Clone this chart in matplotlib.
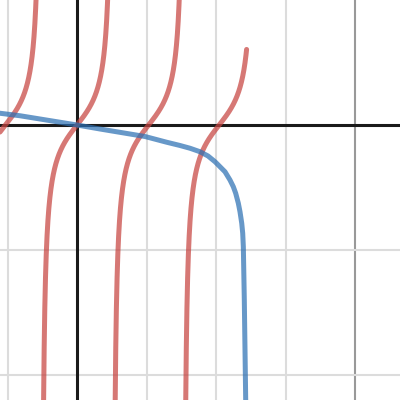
import numpy as np
import matplotlib
matplotlib.use("Agg")
import matplotlib.pyplot as plt

# view window (x in grid units, y in grid units)
x_min, x_max = -1.108, 4.647
y_min, y_max = -2.2, 1.0

# grid lines
light_x = [-1, 1, 2, 3]
dark_x = [4]
light_y = [-1, -2]

# red tan branches: zero crossings, period, amplitude, where the last one stops
red_zeros = [-1.03, 0.0, 1.03, 2.045]
red_period = 1.03
red_amp = 0.232
red_end = 2.44

# blue curve, points
blue_x = [-1.15, -1.108, -0.820, 0.0, 0.331, 0.978, 1.291, 1.482, 1.626, 1.770,
          1.885, 1.986, 2.129, 2.201, 2.249, 2.283, 2.321, 2.345, 2.370, 2.384,
          2.393, 2.407, 2.427, 2.432]
blue_y = [0.098, 0.094, 0.074, 0.0, -0.032, -0.092, -0.138, -0.164, -0.186, -0.214,
          -0.248, -0.294, -0.374, -0.44, -0.494, -0.546, -0.626, -0.694, -0.786, -0.866,
          -0.974, -1.4, -2.2, -2.36]

fig = plt.figure(figsize=(4, 4), dpi=100)
ax = fig.add_axes([0, 0, 1, 1])
ax.set_xlim(x_min, x_max)
ax.set_ylim(y_min, y_max)
ax.axis("off")

for gx in light_x:
    ax.axvline(gx, color="#dcdcdc", lw=1.5, zorder=1)
for gx in dark_x:
    ax.axvline(gx, color="#999999", lw=1.5, zorder=1)
for gy in light_y:
    ax.axhline(gy, color="#dcdcdc", lw=1.5, zorder=1)

ax.axvline(0, color="#1a1a1a", lw=2.2, zorder=2)
ax.axhline(0, color="#1a1a1a", lw=2.2, zorder=2)

for z in red_zeros:
    t = np.linspace(-0.4995, 0.4995, 4000)
    xs = z + t * red_period
    ys = red_amp * np.tan(np.pi * t)
    keep = (np.abs(ys) < 3) & (xs <= red_end)
    ax.plot(xs[keep], ys[keep], color="#c74440", alpha=0.72, lw=3.6,
            solid_capstyle="round", zorder=3)

ax.plot(blue_x, blue_y, color="#2d70b3", alpha=0.72, lw=3.6,
        solid_capstyle="round", solid_joinstyle="round", zorder=3)

fig.savefig("out.png", dpi=100)
